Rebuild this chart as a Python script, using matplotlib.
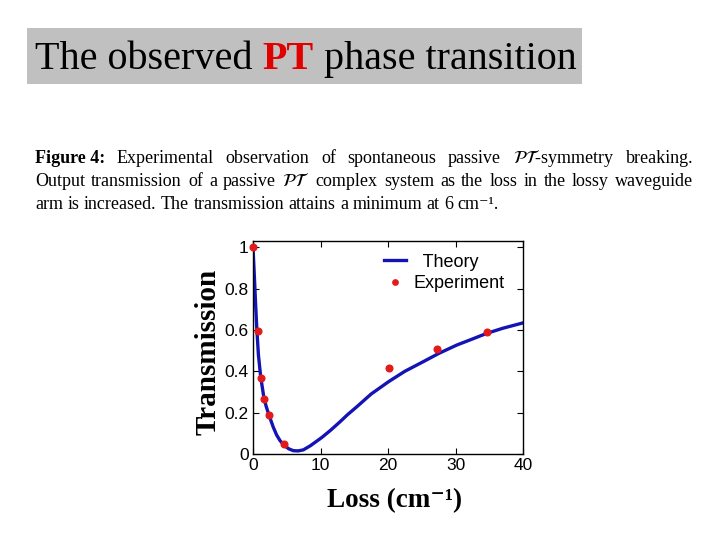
import matplotlib
matplotlib.use("Agg")
import matplotlib.pyplot as plt
from matplotlib.patches import Rectangle

# ---------------- data ----------------
theory_x = [0.0, 0.1, 0.2, 0.35, 0.55, 0.8, 1.14, 1.63, 2.0, 2.37, 3.0, 3.5, 4.0, 4.6,
            5.3, 5.98, 6.7, 7.46, 8.5, 10.2, 11.5, 12.9, 14.0, 15.4, 17.5, 20.1,
            22.5, 25.2, 27.5, 30.2, 32.5, 34.6, 37.0, 40.0]
theory_y = [1.0, 0.93, 0.86, 0.75, 0.615, 0.48, 0.373, 0.269, 0.225, 0.188, 0.13, 0.092,
            0.065, 0.043, 0.025, 0.016, 0.015, 0.02, 0.04, 0.08, 0.115, 0.156, 0.19,
            0.229, 0.29, 0.35, 0.40, 0.446, 0.486, 0.527, 0.556, 0.583, 0.608, 0.634]

exp_x = [0.0, 0.69, 1.14, 1.63, 2.37, 4.6, 20.1, 27.3, 34.7]
exp_y = [1.0, 0.596, 0.367, 0.266, 0.188, 0.048, 0.417, 0.507, 0.588]

xticks = [0, 10, 20, 30, 40]
xtick_labels = ["0", "10", "20", "30", "40"]
yticks = [0, 0.2, 0.4, 0.6, 0.8, 1.0]
ytick_labels = ["0", "0.2", "0.4", "0.6", "0.8", "1"]

title_parts = ["The observed", "PT", "phase transition"]
caption_lines = [
    [("Figure 4:", "bold"), ("Experimental", "normal"), ("observation", "normal"),
     ("of", "normal"), ("spontaneous", "normal"), ("passive", "normal"),
     (r"$\mathcal{PT}$-symmetry", "normal"), ("breaking.", "normal")],
    [("Output", "normal"), ("transmission", "normal"), ("of", "normal"), ("a", "normal"),
     ("passive", "normal"), (r"$\mathcal{PT}$", "normal"), ("complex", "normal"),
     ("system", "normal"), ("as", "normal"), ("the", "normal"), ("loss", "normal"),
     ("in", "normal"), ("the", "normal"), ("lossy", "normal"), ("waveguide", "normal")],
    [("arm", "normal"), ("is", "normal"), ("increased.", "normal"), ("The", "normal"),
     ("transmission", "normal"), ("attains", "normal"), ("a", "normal"),
     ("minimum", "normal"), ("at", "normal"), ("6", "normal"), ("cm\u207b\u00b9.", "normal")],
]

plt.rcParams["mathtext.fontset"] = "stix"

W, H = 720, 540
fig = plt.figure(figsize=(7.2, 5.4), dpi=100)
fig.patch.set_facecolor("white")
renderer = fig.canvas.get_renderer()
SERIF = ["Liberation Serif", "DejaVu Serif"]


def fx(px):
    return px / W


def fy(py):
    return 1 - py / H


def place_words(tokens, x0, y_base, x1=None, size=12, family=SERIF):
    texts = []
    widths = []
    for word, weight, color in tokens:
        t = fig.text(0, fy(y_base), word, fontsize=size, family=family,
                     fontweight=weight, color=color, va="baseline", ha="left")
        texts.append(t)
        widths.append(t.get_window_extent(renderer).width)
    probe = fig.text(0, 0, "n n", fontsize=size, family=family)
    probe2 = fig.text(0, 0, "nn", fontsize=size, family=family)
    space = probe.get_window_extent(renderer).width - probe2.get_window_extent(renderer).width
    probe.remove()
    probe2.remove()
    if x1 is not None and len(tokens) > 1:
        gap = (x1 - x0 - sum(widths)) / (len(tokens) - 1)
    else:
        gap = space
    x = x0
    for t, w in zip(texts, widths):
        t.set_x(fx(x))
        x += w + gap


# ---------------- title box ----------------
fig.patches.append(Rectangle((fx(27), fy(84)), fx(582) - fx(27), fy(28) - fy(84),
                             transform=fig.transFigure, facecolor="#c0c0c0",
                             edgecolor="none", zorder=0))
place_words([(title_parts[0], "normal", "black"),
             (title_parts[1], "bold", "#e00000"),
             (title_parts[2], "normal", "black")],
            35, 69, x1=None, size=28.9)

# ---------------- caption ----------------
cap_base = [163, 186, 209]
for i, line in enumerate(caption_lines):
    toks = [(w, wt, "black") for w, wt in line]
    place_words(toks, 35, cap_base[i], x1=(693 if i < 2 else None), size=13)

# ---------------- axes ----------------
ax = fig.add_axes([fx(253), fy(454), fx(523) - fx(253), fy(241) - fy(454)])
ax.plot(theory_x, theory_y, color="#1414b4", lw=2.4, label="  Theory", zorder=2)
ax.plot(exp_x, exp_y, ls="none", marker="o", ms=4.8, color="#e31a1a",
        mec="#e31a1a", label="Experiment", zorder=3, clip_on=False)

ax.set_xlim(0, 40)
ax.set_ylim(0, 1.03)
ax.set_xticks(xticks)
ax.set_xticklabels(xtick_labels)
ax.set_yticks(yticks)
ax.set_yticklabels(ytick_labels)
ax.tick_params(direction="in", top=True, right=True, length=4, width=0.8,
               labelsize=12.5, pad=3)
for lab in ax.get_xticklabels() + ax.get_yticklabels():
    lab.set_family("Liberation Sans")
for sp in ax.spines.values():
    sp.set_linewidth(1.0)

ax.set_ylabel("Transmission", family=SERIF, fontweight="bold", fontsize=21)
ax.yaxis.set_label_coords(-0.115, 0.48)
ax.set_xlabel("Loss (cm\u207b\u00b9)", family=SERIF, fontweight="bold", fontsize=19.5)
ax.xaxis.set_label_coords(0.526, -0.16)

leg = ax.legend(loc="upper right", bbox_to_anchor=(0.978, 1.0), frameon=False,
                prop={"family": "Liberation Sans", "size": 13},
                handlelength=1.2, handletextpad=0.4, borderaxespad=0.6,
                labelspacing=0.25, markerscale=0.8, borderpad=0.1)

fig.savefig("out.png", dpi=100)
